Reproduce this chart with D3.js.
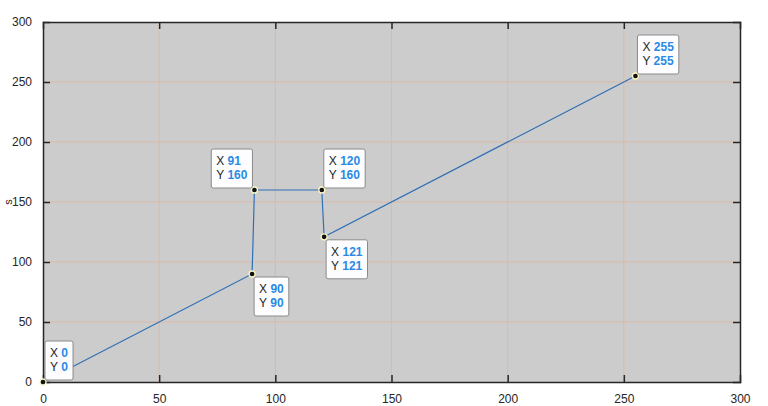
<!DOCTYPE html>
<meta charset="utf-8">
<script src="https://d3js.org/d3.v7.min.js"></script>
<style>
  body { margin: 0; background: #fff; }
  text { font-family: "Liberation Sans", Arial, sans-serif; }
</style>
<body>
<div id="chart"></div>
</body>
<script>
  // data
  const xs = [0, 90, 91, 120, 121, 255];
  const ys = [0, 90, 160, 160, 121, 255];
  // which side of the point each datatip sits on
  const tipSide = ["ne", "se", "nw", "ne", "se", "ne"];
  const xTicks = [0, 50, 100, 150, 200, 250, 300];
  const yTicks = [0, 50, 100, 150, 200, 250, 300];

  const W = 768, H = 406;
  const margin = {top: 22, right: 28, bottom: 24, left: 43};
  const width = W - margin.left - margin.right,
        height = H - margin.top - margin.bottom;

  const svg = d3.select("#chart").append("svg")
      .attr("width", W).attr("height", H);
  const g = svg.append("g")
      .attr("transform", `translate(${margin.left},${margin.top})`);

  const x = d3.scaleLinear().domain([0, 300]).range([0, width]);
  const y = d3.scaleLinear().domain([0, 300]).range([height, 0]);

  g.append("rect").attr("width", width).attr("height", height).attr("fill", "#cccccc");

  // grid
  g.append("g").selectAll("line").data(xTicks.slice(1, -1)).join("line")
      .attr("x1", d => x(d)).attr("x2", d => x(d))
      .attr("y1", 0).attr("y2", height)
      .attr("stroke", "#dcb9a8").attr("stroke-width", 1);
  g.append("g").selectAll("line").data(yTicks.slice(1, -1)).join("line")
      .attr("y1", d => y(d)).attr("y2", d => y(d))
      .attr("x1", 0).attr("x2", width)
      .attr("stroke", "#dcb9a8").attr("stroke-width", 1);

  // axes (ticks inside, mirrored on top/right)
  const xAxis = g.append("g").attr("transform", `translate(0,${height})`)
      .call(d3.axisBottom(x).tickValues(xTicks).tickSize(-7).tickPadding(12));
  const yAxis = g.append("g")
      .call(d3.axisLeft(y).tickValues(yTicks).tickSize(-7).tickPadding(11));
  const xTop = g.append("g")
      .call(d3.axisTop(x).tickValues(xTicks).tickSize(-7).tickFormat(""));
  const yRight = g.append("g").attr("transform", `translate(${width},0)`)
      .call(d3.axisRight(y).tickValues(yTicks).tickSize(-7).tickFormat(""));
  [xAxis, yAxis, xTop, yRight].forEach(a => {
    a.select(".domain").attr("stroke", "#262626").attr("stroke-width", 1.5);
    a.selectAll(".tick line").attr("stroke", "#262626").attr("stroke-width", 1.5);
    a.selectAll(".tick text").attr("fill", "#262626").style("font-size", "12px")
      .style("font-family", '"Liberation Sans", Arial, sans-serif');
  });
  xAxis.selectAll(".tick line").filter(d => d === 0 || d === 300).remove();
  yAxis.selectAll(".tick line").filter(d => d === 0 || d === 300).remove();
  xTop.selectAll(".tick line").filter(d => d === 0 || d === 300).remove();
  yRight.selectAll(".tick line").filter(d => d === 0 || d === 300).remove();

  svg.append("text")
      .attr("transform", `translate(12,${margin.top + height / 2}) rotate(-90)`)
      .attr("text-anchor", "middle")
      .style("font-size", "11px").attr("fill", "#262626")
      .text("s");

  const pts = xs.map((d, i) => ({x: d, y: ys[i], side: tipSide[i]}));

  // line
  g.append("path").datum(pts)
      .attr("fill", "none").attr("stroke", "#2f6fb5").attr("stroke-width", 1.2)
      .attr("d", d3.line().x(d => x(d.x)).y(d => y(d.y)));

  // markers
  g.selectAll(".pt").data(pts).join("circle")
      .attr("cx", d => x(d.x)).attr("cy", d => y(d.y)).attr("r", 3)
      .attr("fill", "#111").attr("stroke", "#fbf7c8").attr("stroke-width", 1.3);

  // datatips
  const tips = g.selectAll(".tip").data(pts).join("g").attr("class", "tip");
  tips.each(function(d) {
    const t = d3.select(this);
    const box = t.append("rect").attr("rx", 2)
        .attr("fill", "#fdfdff").attr("stroke", "#8a8a8a").attr("stroke-width", 1);
    const rows = [["X", d.x], ["Y", d.y]];
    let maxW = 0;
    const texts = rows.map((r, i) => {
      const tx = t.append("text").attr("x", 5).attr("y", 16 + i * 14)
          .style("font-size", "12px");
      tx.append("tspan").attr("fill", "#262626").text(r[0] + " ");
      tx.append("tspan").attr("fill", "#2a8ae6").attr("font-weight", "bold").text(r[1]);
      maxW = Math.max(maxW, tx.node().getComputedTextLength());
      return tx;
    });
    const bw = maxW + 10, bh = 39;
    box.attr("width", bw).attr("height", bh);
    const px = x(d.x), py = y(d.y);
    const ox = d.side.includes("e") ? px + 2 : px - 2 - bw;
    const oy = d.side.includes("n") ? py - 2 - bh : py + 3;
    t.attr("transform", `translate(${ox},${oy})`);
  });
</script>
